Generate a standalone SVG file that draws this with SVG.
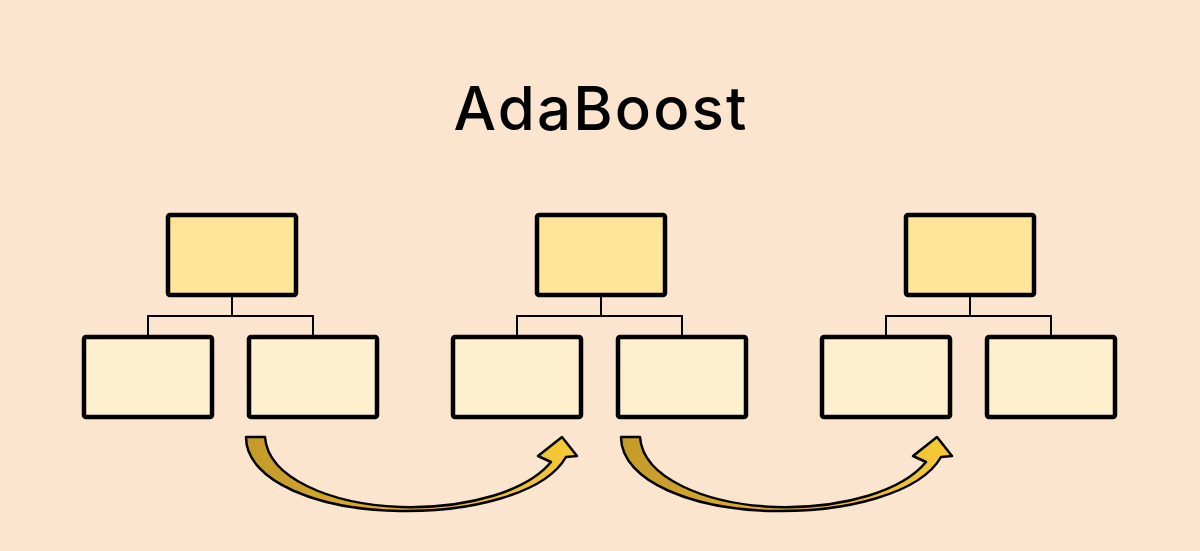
<svg xmlns="http://www.w3.org/2000/svg" width="1200" height="551" viewBox="0 0 1200 551">
<style>
.top{fill:#fee597;stroke:#000;stroke-width:4.5}
.leaf{fill:#fef0cf;stroke:#000;stroke-width:4.5}
.ln{fill:none;stroke:#000;stroke-width:2}
.arr{fill:url(#g);stroke:#000;stroke-width:2.5;stroke-linejoin:round}
</style>
<defs>
<linearGradient id="g" x1="0" x2="1" y1="0" y2="0"><stop offset="0" stop-color="#c49a2a"/><stop offset="1" stop-color="#f6c936"/></linearGradient>
<g id="tree">
<rect class="top" x="168" y="215" width="128" height="80" rx="2"/>
<path class="ln" d="M232,296V316M148,337V316H313V337"/>
<rect class="leaf" x="84" y="337" width="128" height="80" rx="2"/>
<rect class="leaf" x="249" y="337" width="128" height="80" rx="2"/>
</g>
<path id="ar" class="arr" d="M246,437 L265,437 C268,478 330,504 400,507 C470,509 528,490 551,462 L538,456 L562,437 L577,456 L566,457 C545,494 470,512 400,511 C320,510 246,482 246,437 Z"/>
</defs>
<rect width="1200" height="551" fill="#fce5cf"/>
<text x="600" y="130" text-anchor="middle" font-family="Inter, 'Open Sans', sans-serif" font-size="60" font-weight="500" fill="#000" textLength="293">AdaBoost</text>
<g id="tree1"><use href="#tree"/></g>
<g id="tree2"><use href="#tree" x="369"/></g>
<g id="tree3"><use href="#tree" x="738"/></g>
<g id="connectors"><use href="#ar"/><use href="#ar" x="375"/></g>
</svg>
